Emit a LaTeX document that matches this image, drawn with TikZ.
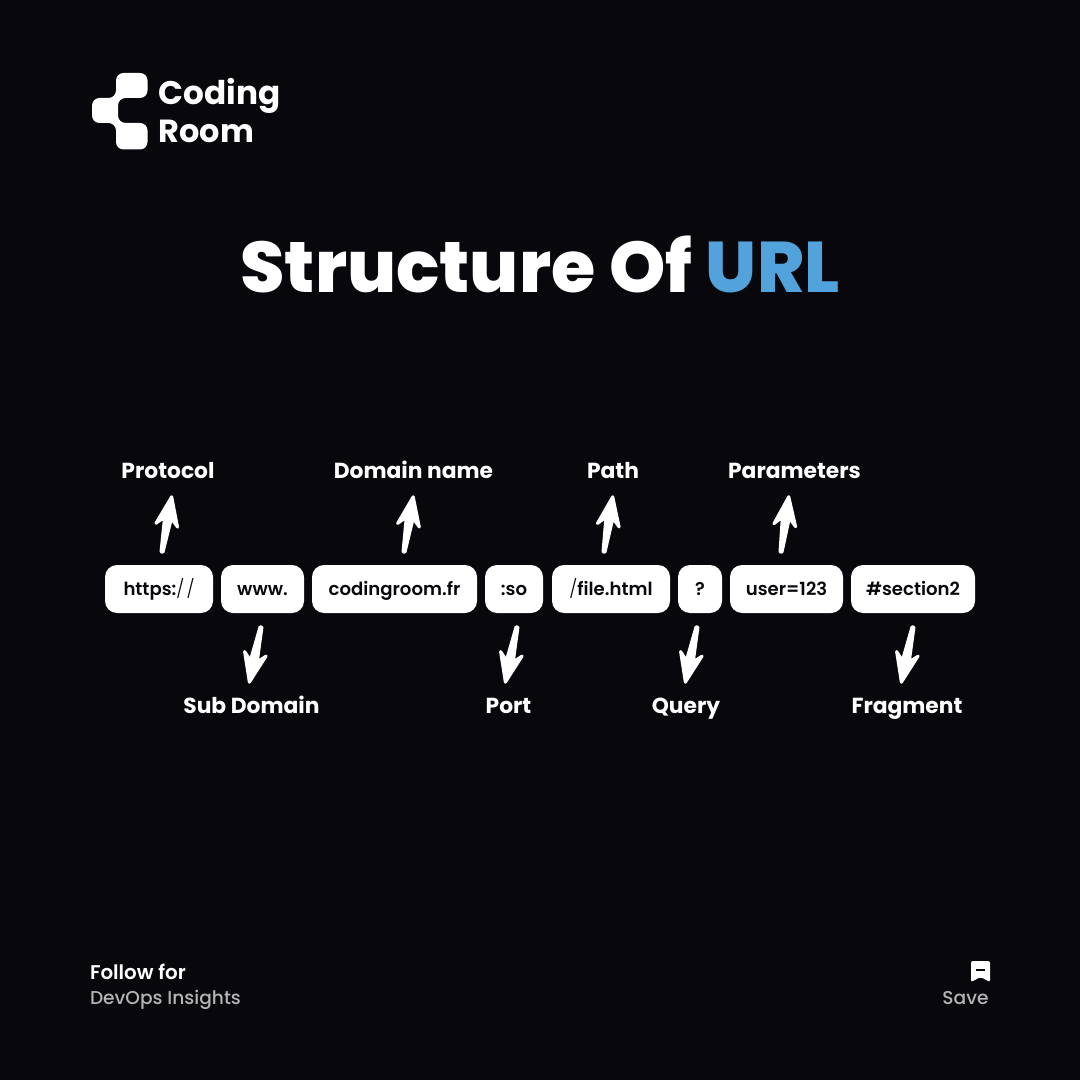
\documentclass[tikz,border=0pt]{standalone}
\usepackage{fontspec}
\setmainfont{Poppins}
\newfontfamily\headfont{Poppins}[UprightFont=* ExtraBold]
\newfontfamily\labelfont{Poppins}[UprightFont=* Bold]
\newfontfamily\boxfont{Poppins}[UprightFont=* SemiBold]
\newfontfamily\footfont{Poppins}[UprightFont=* Medium]
\newfontfamily\thinfont{Poppins}[UprightFont=* Light]
\usetikzlibrary{positioning, calc}
\definecolor{pagebg}{HTML}{07070C}
\definecolor{urlblue}{HTML}{52A2DB}
\definecolor{softgrey}{HTML}{B4B4B6}
\tikzset{urlbox/.style={fill=white, text=pagebg, rounded corners=0.12cm, minimum width=#1, minimum height=0.48cm, inner sep=0, outer sep=0, font=\boxfont\fontsize{5.15}{6}\selectfont, text height=3.5pt, text depth=0pt}}
\tikzset{partlabel/.style={text=white, inner sep=0, outer sep=0, font=\labelfont\fontsize{6.2}{7}\selectfont, text height=5pt, text depth=1.5pt}}
\tikzset{footnote/.style={inner sep=0, outer sep=0, anchor=base west, font=\footfont\fontsize{5.3}{7}\selectfont}}
\tikzset{handarrow/.style={fill=white, draw=white, line width=0.03cm, line join=round, to path={
    ($(\tikztostart)!0.01cm!90:(\tikztotarget)$)
    -- ($(\tikztostart)!0.60!(\tikztotarget)!0.035cm!90:(\tikztotarget)$)
    -- ($(\tikztostart)!0.47!(\tikztotarget)!0.11cm!90:(\tikztotarget)$)
    -- ($(\tikztostart)!0.97!(\tikztotarget)$)
    -- ($(\tikztostart)!0.47!(\tikztotarget)!-0.11cm!90:(\tikztotarget)$)
    -- ($(\tikztostart)!0.60!(\tikztotarget)!-0.035cm!90:(\tikztotarget)$)
    -- ($(\tikztostart)!-0.01cm!90:(\tikztotarget)$) -- cycle}}}

\begin{document}
\begin{tikzpicture}
    \useasboundingbox[fill=pagebg] (0, 0) rectangle (10.8, -10.8);

    % logo
    \fill[white, rounded corners=0.075cm] (1.16, -0.73) -- (1.475, -0.73) -- (1.475, -0.98) -- (1.18, -0.98) -- (1.18, -1.23) -- (1.475, -1.23) -- (1.475, -1.495) -- (1.16, -1.495) -- (1.16, -1.23) -- (0.92, -1.23) -- (0.92, -0.98) -- (1.16, -0.98) -- cycle;
    \node[text=white, inner sep=0, anchor=base west, font=\labelfont\fontsize{9.3}{12}\selectfont] (coding) at (1.58, -1.05) {Coding};
    \node[text=white, inner sep=0, anchor=base west, font=\labelfont\fontsize{9.1}{12}\selectfont] (room) at (1.58, -1.43) {Room};

    \node[text=white, inner sep=0, anchor=base, font=\headfont\fontsize{20.4}{26}\selectfont] (title) at (5.4, -2.93) {Structure Of \textcolor{urlblue}{URL}};

    % the url
    \node[urlbox=1.08cm] (https) at (1.59, -5.89) {https:{\thinfont/\kern0.6pt/}};
    \node[urlbox=0.83cm, right=0.08cm of https] (www) {www.};
    \node[urlbox=1.65cm, right=0.08cm of www] (domain) {codingroom.fr};
    \node[urlbox=0.58cm, right=0.08cm of domain] (port) {:so};
    \node[urlbox=1.18cm, right=0.09cm of port] (file) {{\thinfont/}file.html};
    \node[urlbox=0.44cm, right=0.08cm of file] (query) {?};
    \node[urlbox=1.13cm, right=0.08cm of query] (user) {user=123};
    \node[urlbox=1.24cm, right=0.08cm of user] (section) {\#section2};

    \node[partlabel] (protocollabel) at (1.68, -4.72) {Protocol};
    \node[partlabel] (domainlabel) at (4.135, -4.72) {Domain name};
    \node[partlabel] (pathlabel) at (6.13, -4.72) {Path};
    \node[partlabel] (paramlabel) at (7.945, -4.72) {Parameters};
    \node[partlabel] (sublabel) at (2.515, -7.07) {Sub Domain};
    \node[partlabel] (portlabel) at (5.085, -7.07) {Port};
    \node[partlabel] (querylabel) at (6.86, -7.07) {Query};
    \node[partlabel] (fragmentlabel) at (9.07, -7.07) {Fragment};

    % arrows, each with its shift at the box and at the label
    \foreach \from/\dx/\to/\ex in {https/0.03/protocollabel/0.04, domain/0.095/domainlabel/0, file/-0.07/pathlabel/0, user/-0.055/paramlabel/-0.055} {
        \draw[handarrow] ([shift={(\dx, 0.13)}]\from.north) to ([shift={(\ex, -0.116)}]\to.south);
    }
    \foreach \from/\dx/\to/\ex in {www/-0.015/sublabel/-0.025, port/0.03/portlabel/-0.035, query/-0.03/querylabel/-0.01, section/0/fragmentlabel/-0.06} {
        \draw[handarrow] ([shift={(\dx, -0.14)}]\from.south) to ([shift={(\ex, 0.116)}]\to.north);
    }

    % footer
    \node[footnote, text=white, font=\boxfont\fontsize{5.65}{7}\selectfont] (follow) at (0.9, -9.79) {Follow for};
    \node[footnote, text=softgrey] (insights) at (0.9, -10.04) {DevOps Insights};
    \node[footnote, text=softgrey, anchor=base] (save) at (9.655, -10.04) {Save};
    \fill[white, rounded corners=0.02cm] (9.71, -9.61) -- (9.9, -9.61) -- (9.9, -9.82) -- (9.805, -9.77) -- (9.71, -9.82) -- cycle;
    \draw[pagebg, line width=0.015cm] (9.76, -9.7) -- (9.85, -9.7);
\end{tikzpicture}
\end{document}
